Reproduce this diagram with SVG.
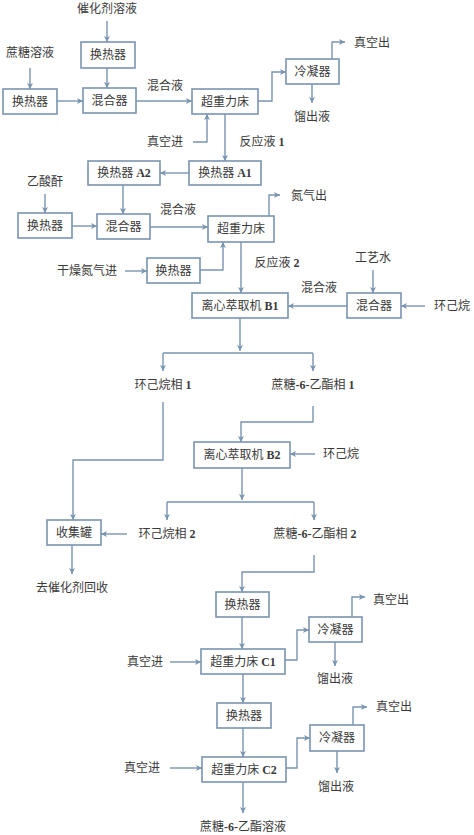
<svg xmlns="http://www.w3.org/2000/svg" width="474" height="835" viewBox="0 0 474 835">
<defs>
<marker id="ah" markerUnits="userSpaceOnUse" markerWidth="7" markerHeight="7" refX="6" refY="3" orient="auto">
<path d="M0,0 L6,3 L0,6 L1.5,3 z" fill="#7a94b0"/>
</marker>
<style>
rect{fill:#fff;stroke:#7a94b0;stroke-width:1.6}
text{font-family:"Liberation Serif","Noto Sans CJK SC",serif;font-size:12px;fill:#3a3a3a;text-anchor:middle;dominant-baseline:central}
.b{font-weight:bold}
#connectors line,#connectors polyline{fill:none;stroke:#7a94b0;stroke-width:1.4}
.a{marker-end:url(#ah)}
</style>
</defs>
<rect x="0" y="0" width="474" height="835" style="fill:#fff;stroke:none"/>
<g id="connectors">
<line class="a" x1="107" y1="21" x2="107" y2="42"/>
<line class="a" x1="107" y1="68" x2="107" y2="88"/>
<line class="a" x1="30" y1="68" x2="30" y2="89"/>
<line class="a" x1="57" y1="101" x2="83" y2="101"/>
<line class="a" x1="136" y1="101" x2="192" y2="101"/>
<polyline class="a" points="258,101 272,101 272,72 286,72"/>
<polyline class="a" points="332,59 332,42 345,42"/>
<line class="a" x1="312" y1="84" x2="312" y2="103"/>
<polyline class="a" points="193,142 207,142 207,114"/>
<line class="a" x1="225" y1="114" x2="225" y2="161"/>
<line class="a" x1="189" y1="173" x2="160" y2="173"/>
<line class="a" x1="123" y1="185" x2="123" y2="214"/>
<line class="a" x1="45" y1="194" x2="45" y2="213"/>
<line class="a" x1="72" y1="226" x2="97" y2="226"/>
<line class="a" x1="150" y1="227" x2="208" y2="227"/>
<polyline class="a" points="269,216 269,195 280,195"/>
<line class="a" x1="125" y1="271" x2="147" y2="271"/>
<polyline class="a" points="200,270 223,270 223,242"/>
<line class="a" x1="241" y1="242" x2="241" y2="293"/>
<line class="a" x1="373" y1="270" x2="373" y2="293"/>
<line class="a" x1="347" y1="306" x2="288" y2="306"/>
<line class="a" x1="425" y1="306" x2="401" y2="306"/>
<line class="a" x1="240" y1="318" x2="240" y2="351"/>
<line x1="163" y1="353" x2="313" y2="353"/>
<line class="a" x1="163" y1="353" x2="163" y2="371"/>
<line class="a" x1="313" y1="353" x2="313" y2="371"/>
<polyline class="a" points="163,402 163,460 73,460 73,520"/>
<polyline class="a" points="313,406 313,422 241,422 241,442"/>
<line class="a" x1="315" y1="454" x2="290" y2="454"/>
<line class="a" x1="242" y1="468" x2="242" y2="500"/>
<line x1="167" y1="502" x2="314" y2="502"/>
<line class="a" x1="167" y1="502" x2="167" y2="520"/>
<line class="a" x1="314" y1="502" x2="314" y2="520"/>
<line class="a" x1="127" y1="534" x2="101" y2="534"/>
<line class="a" x1="72" y1="545" x2="72" y2="574"/>
<polyline class="a" points="314,555 314,572 242,572 242,592"/>
<line class="a" x1="242" y1="617" x2="242" y2="649"/>
<polyline class="a" points="285,660 297,660 297,630 309,630"/>
<polyline class="a" points="352,617 352,597 365,597"/>
<line class="a" x1="335" y1="642" x2="335" y2="666"/>
<line class="a" x1="170" y1="662" x2="201" y2="662"/>
<line class="a" x1="243" y1="674" x2="243" y2="703"/>
<line class="a" x1="243" y1="728" x2="243" y2="757"/>
<polyline class="a" points="286,768 297,768 297,738 310,738"/>
<polyline class="a" points="353,725 353,707 367,707"/>
<line class="a" x1="337" y1="751" x2="337" y2="773"/>
<line class="a" x1="170" y1="768" x2="202" y2="768"/>
<line class="a" x1="243" y1="782" x2="243" y2="813"/>
</g>
<g id="hx1"><rect x="81" y="42" width="54" height="26"/><text x="108" y="55">换热器</text></g>
<g id="mix1"><rect x="83" y="88" width="53" height="25"/><text x="109.5" y="100.5">混合器</text></g>
<g id="hx0"><rect x="3" y="89" width="54" height="25"/><text x="30" y="101.5">换热器</text></g>
<g id="sg1"><rect x="192" y="89" width="66" height="25"/><text x="225" y="101.5">超重力床</text></g>
<g id="cond1"><rect x="286" y="59" width="53" height="25"/><text x="312.5" y="71.5">冷凝器</text></g>
<g id="hxA1"><rect x="189" y="161" width="72" height="24"/><text x="225" y="173">换热器 <tspan class="b">A1</tspan></text></g>
<g id="hxA2"><rect x="88" y="161" width="72" height="24"/><text x="124" y="173">换热器 <tspan class="b">A2</tspan></text></g>
<g id="hx2"><rect x="18" y="213" width="54" height="25"/><text x="45" y="225.5">换热器</text></g>
<g id="mix2"><rect x="97" y="214" width="53" height="25"/><text x="123.5" y="226.5">混合器</text></g>
<g id="sg2"><rect x="208" y="216" width="66" height="26"/><text x="241" y="229">超重力床</text></g>
<g id="hx3"><rect x="147" y="258" width="53" height="25"/><text x="173.5" y="270.5">换热器</text></g>
<g id="mix3"><rect x="347" y="293" width="54" height="25"/><text x="374" y="305.5">混合器</text></g>
<g id="B1"><rect x="192" y="293" width="96" height="25"/><text x="240" y="305.5">离心萃取机 <tspan class="b">B1</tspan></text></g>
<g id="B2"><rect x="194" y="442" width="96" height="26"/><text x="242" y="455">离心萃取机 <tspan class="b">B2</tspan></text></g>
<g id="tank"><rect x="47" y="520" width="54" height="25"/><text x="74" y="532.5">收集罐</text></g>
<g id="hx4"><rect x="216" y="592" width="53" height="25"/><text x="242.5" y="604.5">换热器</text></g>
<g id="cond2"><rect x="309" y="617" width="53" height="25"/><text x="335.5" y="629.5">冷凝器</text></g>
<g id="C1"><rect x="201" y="649" width="84" height="25"/><text x="243" y="661.5">超重力床 <tspan class="b">C1</tspan></text></g>
<g id="hx5"><rect x="217" y="703" width="54" height="25"/><text x="244" y="715.5">换热器</text></g>
<g id="cond3"><rect x="310" y="725" width="54" height="26"/><text x="337" y="738">冷凝器</text></g>
<g id="C2"><rect x="202" y="757" width="84" height="25"/><text x="244" y="769.5">超重力床 <tspan class="b">C2</tspan></text></g>
<g id="labels">
<text x="107" y="9">催化剂溶液</text>
<text x="30" y="53">蔗糖溶液</text>
<text x="165" y="86">混合液</text>
<text x="372" y="43">真空出</text>
<text x="312" y="117">馏出液</text>
<text x="165" y="142">真空进</text>
<text x="262" y="142">反应液 <tspan class="b">1</tspan></text>
<text x="45" y="182">乙酸酐</text>
<text x="178" y="210">混合液</text>
<text x="309" y="196">氮气出</text>
<text x="87" y="271">干燥氮气进</text>
<text x="277" y="263">反应液 <tspan class="b">2</tspan></text>
<text x="373" y="258">工艺水</text>
<text x="319" y="288">混合液</text>
<text x="452" y="306">环己烷</text>
<text x="163" y="385">环己烷相 <tspan class="b">1</tspan></text>
<text x="313" y="385">蔗糖<tspan class="b">-6-</tspan>乙酯相 <tspan class="b">1</tspan></text>
<text x="341" y="454">环己烷</text>
<text x="167" y="534">环己烷相 <tspan class="b">2</tspan></text>
<text x="315" y="534">蔗糖<tspan class="b">-6-</tspan>乙酯相 <tspan class="b">2</tspan></text>
<text x="72" y="588">去催化剂回收</text>
<text x="391" y="600">真空出</text>
<text x="145" y="662">真空进</text>
<text x="335" y="679">馏出液</text>
<text x="394" y="707">真空出</text>
<text x="142" y="768">真空进</text>
<text x="336" y="787">馏出液</text>
<text x="243" y="827">蔗糖<tspan class="b">-6-</tspan>乙酯溶液</text>
</g>
</svg>
